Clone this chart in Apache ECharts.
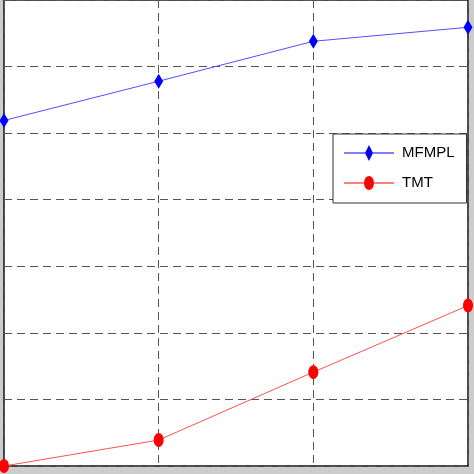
<!DOCTYPE html>
<html>
<head>
<meta charset="utf-8">
<script src="https://cdn.jsdelivr.net/npm/echarts@6/dist/echarts.min.js"></script>
<style>
html,body{margin:0;padding:0;background:#cccccc;}
#c{width:474px;height:474px;}
</style>
</head>
<body>
<div id="c"></div>
<script>
var categories = ['1', '2', '3', '4'];
var mfmpl = [5.19, 5.78, 6.38, 6.59];
var tmt = [0.0, 0.39, 1.41, 2.41];
var seriesNames = ['MFMPL', 'TMT'];

var iconDiamond = 'path://M0,7.6 L50,7.6 L50,8.4 L0,8.4 Z M25,0 L29,8 L25,16 L21,8 Z';
var iconCircle = 'path://M0,7.6 L50,7.6 L50,8.4 L0,8.4 Z M20,8 A5,7 0 1,1 30,8 A5,7 0 1,1 20,8 Z M25,0 L25,0.01 Z M25,16 L25,15.99 Z';

var chart = echarts.init(document.getElementById('c'));
chart.setOption({
  animation: false,
  backgroundColor: '#cccccc',
  grid: {
    left: 4, right: 6, top: -2, bottom: 8,
    show: true, backgroundColor: '#ffffff',
    borderColor: '#111111', borderWidth: 1.5
  },
  xAxis: {
    type: 'category',
    data: categories,
    boundaryGap: false,
    axisLine: {show: false},
    axisTick: {show: false},
    axisLabel: {show: false},
    splitLine: {show: true, lineStyle: {color: '#555555', type: [8, 5], width: 1}}
  },
  yAxis: {
    type: 'value',
    min: 0, max: 7, interval: 1,
    axisLine: {show: false},
    axisTick: {show: false},
    axisLabel: {show: false},
    splitLine: {show: true, lineStyle: {color: '#555555', type: [8, 5], width: 1}}
  },
  legend: {
    orient: 'vertical',
    left: 333, top: 134,
    backgroundColor: '#ffffff',
    borderColor: '#333333', borderWidth: 1,
    padding: [11, 12, 12, 11],
    itemWidth: 50, itemHeight: 16, itemGap: 14,
    textStyle: {fontFamily: '"Liberation Sans", Arial, sans-serif', fontSize: 15, color: '#000', padding: [0, 0, 0, 3]},
    data: [
      {name: seriesNames[0], icon: iconDiamond, itemStyle: {color: '#0000ff'}},
      {name: seriesNames[1], icon: iconCircle, itemStyle: {color: '#ff0000'}}
    ]
  },
  series: [
    {
      name: seriesNames[0], type: 'line', data: mfmpl,
      symbol: 'diamond', symbolSize: [9, 15],
      lineStyle: {color: '#5050ff', width: 1},
      itemStyle: {color: '#0000ff'}
    },
    {
      name: seriesNames[1], type: 'line', data: tmt,
      symbol: 'circle', symbolSize: [10, 14],
      lineStyle: {color: '#ff5050', width: 1},
      itemStyle: {color: '#ff0000'}
    }
  ]
});
</script>
</body>
</html>
